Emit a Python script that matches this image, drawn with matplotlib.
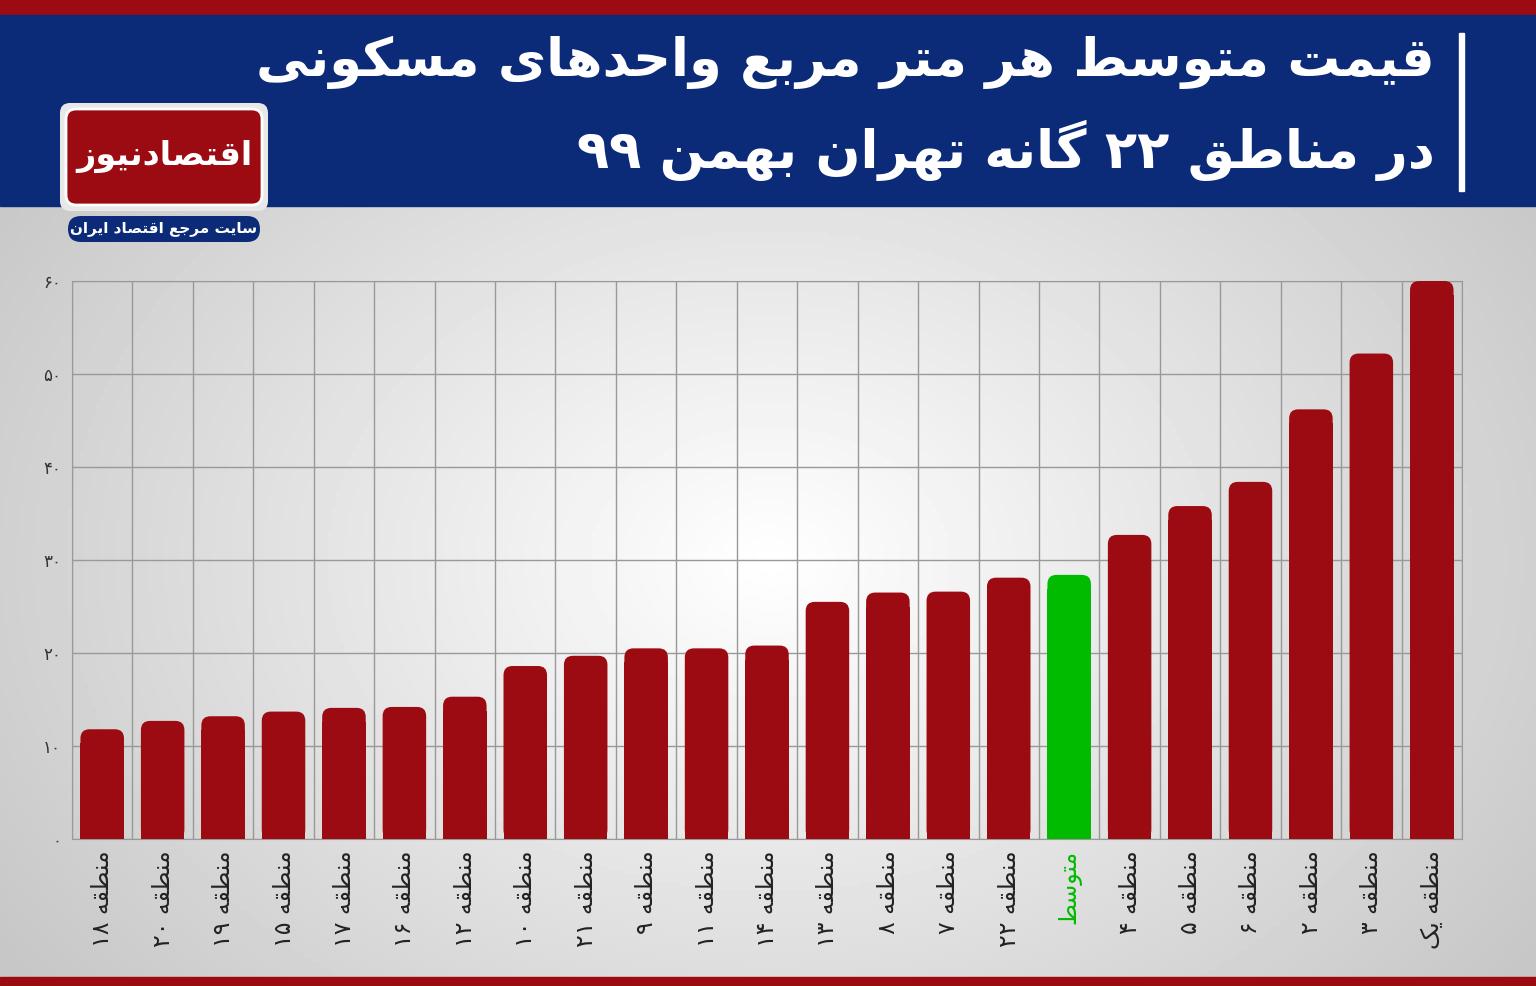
import unicodedata
import numpy as np
import matplotlib
matplotlib.use("Agg")
import matplotlib.pyplot as plt
from matplotlib.patches import FancyBboxPatch, Rectangle

plt.rcParams['font.family'] = ['DejaVu Sans', 'Noto Sans']

# ---------- data ----------
categories = ["منطقه ۱۸", "منطقه ۲۰", "منطقه ۱۹", "منطقه ۱۵", "منطقه ۱۷", "منطقه ۱۶",
              "منطقه ۱۲", "منطقه ۱۰", "منطقه ۲۱", "منطقه ۹", "منطقه ۱۱", "منطقه ۱۴",
              "منطقه ۱۳", "منطقه ۸", "منطقه ۷", "منطقه ۲۲", "متوسط", "منطقه ۴",
              "منطقه ۵", "منطقه ۶", "منطقه ۲", "منطقه ۳", "منطقه یک"]
values = [11.8, 12.7, 13.2, 13.7, 14.1, 14.2, 15.3, 18.6, 19.7, 20.5, 20.5, 20.8,
          25.5, 26.5, 26.6, 28.1, 28.4, 32.7, 35.8, 38.4, 46.2, 52.2, 60.0]
yticks = [0, 10, 20, 30, 40, 50, 60]
ytick_labels = ["۰", "۱۰", "۲۰", "۳۰", "۴۰", "۵۰", "۶۰"]
title1 = "قیمت متوسط هر متر مربع واحدهای مسکونی"
title2 = "در مناطق ۲۲ گانه تهران بهمن ۹۹"
logo_text = "اقتصادنیوز"
logo_sub = "سایت مرجع اقتصاد ایران"

# ---------- minimal Arabic shaping ----------
NONJOIN_LEFT = set("اآأإدذرزژوؤة")
def _form(ch, f):
    try:
        return unicodedata.lookup(unicodedata.name(ch) + " " + f + " FORM")
    except Exception:
        return None
def _isar(ch):
    try:
        return unicodedata.name(ch).startswith("ARABIC LETTER")
    except Exception:
        return False
def shape(s):
    out = []
    for i, ch in enumerate(s):
        if not _isar(ch):
            out.append(ch); continue
        prev = s[i-1] if i > 0 else ""
        nxt = s[i+1] if i + 1 < len(s) else ""
        jp = prev and _isar(prev) and prev not in NONJOIN_LEFT
        jn = nxt and _isar(nxt) and ch not in NONJOIN_LEFT
        if jp and jn: f = "MEDIAL"
        elif jp: f = "FINAL"
        elif jn: f = "INITIAL"
        else: f = "ISOLATED"
        g = _form(ch, f)
        if g is None and f == "MEDIAL":
            g = _form(ch, "FINAL")
        if g is None and f == "INITIAL":
            g = _form(ch, "ISOLATED")
        out.append(g or ch)
    tokens, cur = [], ""
    for ch in out:
        if ch.isdigit():
            cur += ch
        else:
            if cur: tokens.append(cur); cur = ""
            tokens.append(ch)
    if cur: tokens.append(cur)
    return "".join(tokens[::-1])

# ---------- figure ----------
W, H = 1536, 986
fig = plt.figure(figsize=(W/100, H/100), dpi=100)

bg = fig.add_axes([0, 0, 1, 1], zorder=0)
bg.set_xlim(0, W); bg.set_ylim(H, 0); bg.axis("off")
yy, xx = np.mgrid[0:H:4, 0:W:4]
r = np.sqrt(((xx - W/2)/(W*0.6))**2 + ((yy - 560)/(H*0.7))**2)
g = np.clip(1.0 - 0.22*r, 0.78, 1.0)
bg.imshow(g, cmap="gray", vmin=0, vmax=1, extent=[0, W, H, 0], aspect="auto")
bg.add_patch(Rectangle((0, 0), W, 15, color="#9c0a12"))
bg.add_patch(Rectangle((0, 15), W, 191, color="#0b2a78"))
bg.add_patch(Rectangle((0, 977), W, 9, color="#9c0a12"))
bg.add_patch(Rectangle((1459, 33), 5, 158, color="white"))
bg.text(1435, 62, shape(title1), color="white", fontsize=38, fontweight="bold",
        ha="right", va="center")
bg.text(1435, 150, shape(title2), color="white", fontsize=38, fontweight="bold",
        ha="right", va="center")
# logo
bg.add_patch(FancyBboxPatch((60, 103), 208, 108, boxstyle="round,pad=0,rounding_size=10",
                            fc="#e8e8e8", ec="none"))
bg.add_patch(FancyBboxPatch((66, 109), 196, 96, boxstyle="round,pad=0,rounding_size=10",
                            fc="#9c0a12", ec="white", lw=2))
bg.text(164, 156, shape(logo_text), color="white", fontsize=24, fontweight="bold",
        ha="center", va="center")
bg.add_patch(FancyBboxPatch((68, 216), 192, 26, boxstyle="round,pad=0,rounding_size=13",
                            fc="#0b2a78", ec="none"))
bg.text(164, 229, shape(logo_sub), color="white", fontsize=11, fontweight="bold",
        ha="center", va="center")

# ---------- chart ----------
ax = fig.add_axes([72/W, (H-839)/H, (1462-72)/W, (839-281)/H], zorder=1)
ax.patch.set_alpha(0)
x = np.arange(len(categories))
colors = ["#00bb00" if c == "متوسط" else "#9c0a12" for c in categories]
bars = ax.bar(x, values, width=0.72, color=colors, zorder=3)
for b, c in zip(bars, colors):
    b.set_visible(False)
    bx, by, bw, bh = b.get_x(), b.get_y(), b.get_width(), b.get_height()
    ax.add_patch(FancyBboxPatch((bx, by), bw, bh,
                 boxstyle="round,pad=0,rounding_size=0.15",
                 mutation_aspect=6.5, fc=c, ec="none", zorder=3))
    ax.add_patch(Rectangle((bx, by), bw, bh - 1.5, fc=c, ec="none", zorder=3))
ax.set_xlim(-0.5, len(categories) - 0.5)
ax.set_ylim(0, 60)
ax.set_yticks(yticks)
ax.set_yticklabels(ytick_labels, fontsize=12, color="#333333")
ax.set_xticks(x)
ax.set_xticklabels([shape(c) for c in categories], rotation=90, fontsize=17,
                   color="#222222", va="top", ha="center")
for lab, c in zip(ax.get_xticklabels(), categories):
    if c == "متوسط":
        lab.set_color("#00bb00")
ax.tick_params(length=0, pad=8)
for v in yticks:
    ax.axhline(v, color="#999999", lw=1, zorder=1)
for v in np.arange(-0.5, len(categories), 1):
    ax.axvline(v, color="#999999", lw=1, zorder=1)
for s in ax.spines.values():
    s.set_color("#999999")

fig.savefig("out.png", dpi=100)
